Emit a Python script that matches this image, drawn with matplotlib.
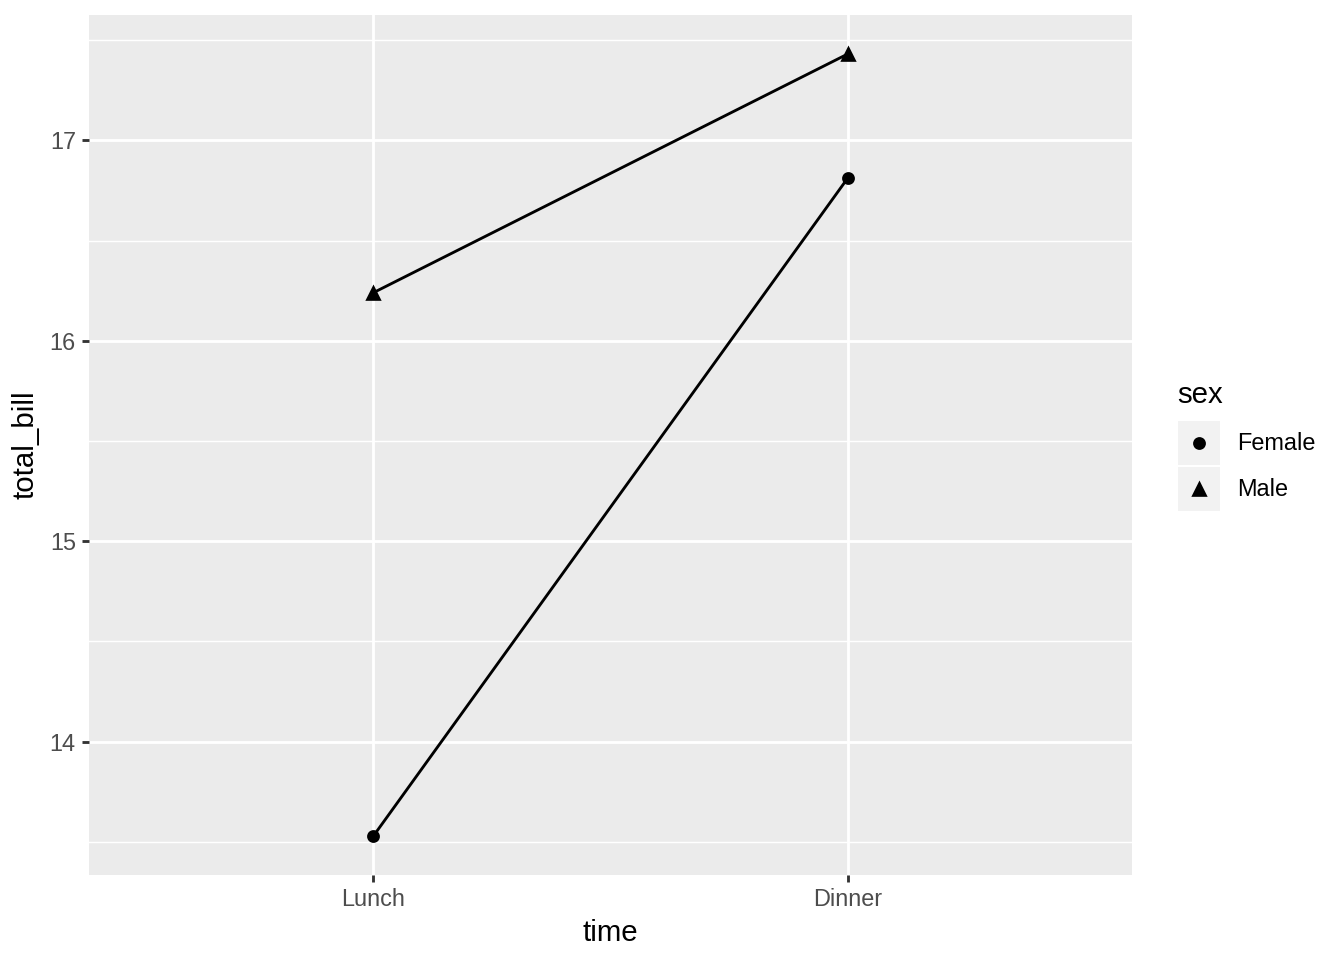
import matplotlib

matplotlib.use("Agg")
import matplotlib.pyplot as plt
from matplotlib.lines import Line2D
from matplotlib.patches import Rectangle

plt.rcParams["font.family"] = ["Liberation Sans", "DejaVu Sans"]

# data (mean total_bill by time and sex)
times = ["Lunch", "Dinner"]
sexes = ["Female", "Male"]
female_bill = [13.53, 16.81]
male_bill = [16.24, 17.43]
markers = {"Female": "o", "Male": "^"}
marker_sizes = {"Female": 3.8, "Male": 4.5}

y_ticks = [14, 15, 16, 17]
y_minor = [13.5, 14.5, 15.5, 16.5, 17.5]

fig = plt.figure(figsize=(7, 5), dpi=192)
W, H = 1344, 960
ax = fig.add_axes([89 / W, 1 - 875 / H, (1132 - 89) / W, (875 - 15) / H])
ax.set_facecolor("#EBEBEB")

x = list(range(1, len(times) + 1))
for sex, vals in zip(sexes, [female_bill, male_bill]):
    ax.plot(x, vals, color="black", lw=1.07, zorder=3)
    ax.plot(x, vals, ls="none", marker=markers[sex], ms=marker_sizes[sex],
            color="black", zorder=4)

# ggplot-like expansion
lo = min(female_bill + male_bill)
hi = max(female_bill + male_bill)
pad = (hi - lo) * 0.05
ax.set_ylim(lo - pad, hi + pad)
ax.set_xlim(0.4, len(times) + 0.6)

ax.set_xticks(x)
ax.set_xticklabels(times)
ax.set_yticks(y_ticks)
ax.set_yticks(y_minor, minor=True)
ax.tick_params(axis="both", which="major", length=2.75, width=1.07,
               color="#333333", labelcolor="#4D4D4D", labelsize=8.8, pad=2.2)
ax.tick_params(axis="both", which="minor", length=0)
ax.grid(which="major", color="white", lw=1.07)
ax.grid(which="minor", axis="y", color="white", lw=0.53)
ax.set_axisbelow(True)
for s in ax.spines.values():
    s.set_visible(False)

ax.set_xlabel("time", fontsize=11, labelpad=3)
ax.set_ylabel("total_bill", fontsize=11, labelpad=4)

# legend drawn by hand, ggplot style
fig.text(1177 / W, 1 - 395 / H, "sex", fontsize=11, va="center", ha="left")
key_top = [421, 467]
for sex, top in zip(sexes, key_top):
    fig.add_artist(Rectangle((1178 / W, 1 - (top + 44) / H), 42 / W, 44 / H,
                             transform=fig.transFigure, facecolor="#F2F2F2",
                             edgecolor="none"))
    fig.add_artist(Line2D([1199 / W], [1 - (top + 22) / H], marker=markers[sex],
                          ms=marker_sizes[sex], color="black", ls="none",
                          transform=fig.transFigure))
    fig.text(1237 / W, 1 - (top + 22) / H, sex, fontsize=8.8, va="center",
             ha="left")

fig.savefig("out.png", dpi=192)
